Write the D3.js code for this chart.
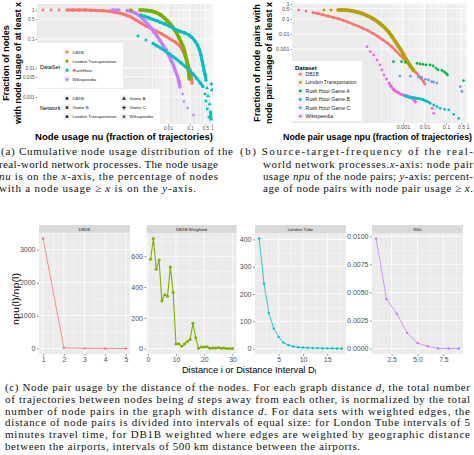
<!DOCTYPE html>
<html><head><meta charset="utf-8">
<script src="https://cdn.jsdelivr.net/npm/d3@7/dist/d3.min.js"></script>
<style>html,body{margin:0;padding:0;background:#fff;overflow:hidden}svg{display:block}</style>
</head><body>
<svg id="fig" width="474" height="455" xmlns="http://www.w3.org/2000/svg"></svg>
<script>
// ================= DATA =================
// (a) cumulative node usage: x = node usage nu, y = fraction of nodes with usage >= x
const nuDB1B = [2.08e-8,4.8e-8,1.11e-7,2.56e-7,4.8e-7,9.0e-7,1.69e-6,3.16e-6,5.9e-6,1.11e-5,2.08e-5,3.9e-5,7.3e-5,1.23e-4,2.08e-4,3.5e-4,5.9e-4,1.0e-3,1.69e-3,2.85e-3,4.8e-3,8.1e-3,1.37e-2,2.31e-2,3.5e-2,4.8e-2,5.9e-2,7.3e-2,8.55e-2,0.1,0.111,0.117,0.123];
const fracDB1B = [1,1,1,1,1,1,1,0.984,0.969,0.946,0.909,0.84,0.76,0.67,0.574,0.452,0.356,0.281,0.23,0.189,0.155,0.122,0.096,0.0757,0.0574,0.0386,0.0259,0.0174,0.0117,0.0085,0.0067,0.0045,0.003];
const nuLondon = [2.08e-4,5.3e-4,7.3e-4,1.0e-3,1.37e-3,1.87e-3,2.6e-3,3.5e-3,4.8e-3,6.6e-3,9.0e-3,1.23e-2,1.6e-2,2.1e-2,2.6e-2,3.2e-2,3.9e-2,4.8e-2,5.6e-2,6.2e-2,6.9e-2,7.55e-2,8.1e-2,8.5e-2,9.0e-2,9.3e-2];
const fracLondon = [1,1,0.98,0.97,0.946,0.91,0.84,0.76,0.67,0.55,0.43,0.34,0.26,0.196,0.15,0.108,0.079,0.055,0.039,0.028,0.020,0.0148,0.0108,0.0079,0.0057,0.0042];
const nuRushA = [5.9e-4,9.0e-4,1.37e-3,2.08e-3,3.16e-3,4.8e-3,7.3e-3,1.11e-2,1.69e-2,2.56e-2,3.9e-2,5.9e-2,9.0e-2,0.123,0.169,0.219,0.27,0.316,0.35,0.39,0.43,0.48,0.53,0.59,0.66,0.77,0.855,0.90];
const fracRushA = [0.67,0.60,0.53,0.47,0.42,0.37,0.33,0.28,0.24,0.204,0.18,0.161,0.137,0.113,0.085,0.062,0.042,0.028,0.0189,0.0127,0.0085,0.0062,0.00386,0.00204,0.00108,0.00057,0.00030,0.000174];
const nuRushB = [4.3e-4,1.0e-3,2.08e-3,3.16e-3,4.8e-3,7.3e-3,1.11e-2,1.69e-2,2.56e-2,3.9e-2,5.9e-2,9.0e-2,0.137,0.208,0.30,0.39,0.48,0.53,0.61,0.73];
const fracRushB = [0.127,0.092,0.070,0.058,0.048,0.039,0.0316,0.0249,0.0196,0.0151,0.0115,0.0085,0.0062,0.0043,0.0030,0.0023,0.00127,0.00073,0.00039,0.000204];
const nuRushC = [0.95,1.0];
const fracRushC = [0.0028,0.00174];
const nuWiki = [2.85e-5,5.9e-5,1.37e-4,1.87e-4,2.56e-4,3.5e-4,4.8e-4,6.6e-4,9.0e-4,1.23e-3,1.69e-3,2.31e-3,3.16e-3,4.3e-3,5.9e-3,8.1e-3,1.05e-2,1.37e-2,1.78e-2,2.19e-2,2.7e-2,3.16e-2,3.5e-2,4.6e-2,5.3e-2,7.7e-2,0.144];
const fracWiki = [1,1,0.96,0.92,0.85,0.76,0.65,0.53,0.42,0.316,0.24,0.174,0.127,0.089,0.062,0.042,0.028,0.0189,0.0122,0.0079,0.0051,0.0033,0.0022,0.00127,0.0007,0.00042,0.00024];
const aXTicks = [0.01,0.1,0.5,1];
const aXLabels = ["0.01","0.1","0.5","1"];
const aYTicks = [1,0.5,0.1,0.01,0.005,0.001];
const aYLabels = ["1","0.5","0.1","0.01","0.005","0.001"];
const aDataSets = ["DB1B","London Transportation","RushHour","Wikispeedia"];
const aNetworks = ["DB1B","Game A","Game B","Game C","London Transportation","Wikispeedia"];

// (b) source-target frequency: x = node pair usage npu, y = fraction of node pairs with usage >= x
const npuDB1B = [1.41e-8,3.08e-8,6.5e-8,1.11e-7,1.9e-7,3.25e-7,5.5e-7,9.5e-7,1.62e-6,2.77e-6,4.7e-6,8.1e-6,1.38e-5,2.36e-5,4.0e-5,6.9e-5,1.17e-4,2.0e-4,3.1e-4,4.7e-4,7.2e-4,1.05e-3,1.53e-3,2.1e-3,2.9e-3,4.0e-3,5.3e-3,6.9e-3,9.0e-3,1.05e-2];
const pfDB1B = [0.40,0.34,0.27,0.23,0.19,0.158,0.13,0.105,0.083,0.063,0.046,0.034,0.024,0.0166,0.0108,0.0068,0.004,0.0023,0.00136,7.4e-4,4.0e-4,2.3e-4,1.36e-4,7.9e-5,4.6e-5,2.7e-5,1.71e-5,1.08e-5,6.8e-6,4.6e-6];
const npuLondon = [2.12e-7,4.5e-7,9.5e-7,1.31e-6,1.8e-6,2.48e-6,3.4e-6,4.7e-6,6.5e-6,9.0e-6,1.24e-5,1.71e-5,2.36e-5,3.25e-5,4.5e-5,6.2e-5,8.5e-5,1.17e-4,1.62e-4,2.23e-4,3.08e-4,4.2e-4,5.8e-4,8.1e-4,1.05e-3,1.38e-3,1.8e-3,2.36e-3,3.08e-3];
const pfLondon = [0.40,0.40,0.40,0.40,0.40,0.386,0.37,0.34,0.307,0.271,0.233,0.194,0.158,0.126,0.095,0.070,0.050,0.034,0.0215,0.0126,0.0068,0.0034,0.0017,8.6e-4,4.3e-4,2.15e-4,1.17e-4,6.3e-5,3.7e-5];
const npuGameA = [3.6e-4,8.5e-4,1.31e-3,4.5e-3,6.2e-3,8.5e-3,1.17e-2,1.8e-2,2.5e-2,3.4e-2,4.2e-2,6.5e-2,8.1e-2,0.1,0.117,0.65];
const pfGameA = [1.42e-4,1.42e-4,1.30e-4,1.11e-4,1.0e-4,9.5e-5,8.6e-5,8.6e-5,7.4e-5,5.4e-5,4.0e-5,3.7e-5,3.07e-5,2.4e-5,1.85e-5,7.9e-6];
const npuGameB = [1.24e-3,1.53e-3,1.9e-3,2.36e-3,2.92e-3,3.6e-3,4.5e-3,5.5e-3,6.9e-3,8.5e-3,1.05e-2,1.31e-2,1.8e-2,2.68e-2,3.8e-2,5.4e-2,8.5e-2,0.134,0.228,0.39];
const pfGameB = [7.4e-7,6.6e-7,6.3e-7,6.0e-7,5.7e-7,5.4e-7,5.2e-7,4.9e-7,4.6e-7,4.2e-7,3.7e-7,3.2e-7,2.5e-7,1.85e-7,1.42e-7,1.11e-7,9.5e-8,8.6e-8,4.4e-8,2.4e-8];
const npuGameC = [7.2e-4,2.19e-3,5.3e-3,7.4e-3,1.09e-2,1.53e-2,2.16e-2,2.68e-2,3.8e-2,0.46,0.55];
const pfGameC = [1.58e-5,1.58e-5,1.36e-5,1.30e-5,9.5e-6,8.6e-6,6.6e-6,6.3e-6,5.4e-6,3.07e-6,1.47e-6];
const npuWiki = [2.12e-5,3.0e-5,4.3e-5,6.2e-5,8.5e-5,1.05e-4,1.31e-4,1.71e-4,2.23e-4,2.77e-4,3.6e-4,4.7e-4,6.2e-4,8.1e-4,1.11e-3,1.53e-3,2.12e-3,2.77e-3,3.4e-3,3.8e-3,1.86e-2,2.23e-2,2.68e-2];
const pfWiki = [1.42e-3,6.6e-4,4.0e-4,1.85e-4,8.6e-5,4.0e-5,1.85e-5,1.0e-5,5.4e-6,3.16e-6,2.0e-6,1.47e-6,1.17e-6,9.7e-7,8.3e-7,7.4e-7,6.3e-7,5.0e-7,3.7e-7,2.93e-7,2.4e-7,1.11e-7,5.2e-8];
const bXTicks = [0.001,0.01,0.1,0.5,1];
const bXLabels = ["0.001","0.01","0.1","0.5","1"];
const bYTicks = [1,0.5,0.1,0.01,0.001];
const bYLabels = ["1","0.5","0.1","0.01","0.001"];
const bDataSets = ["DB1B","London Transportation","Rush Hour Game A","Rush Hour Game B","Rush Hour Game C","Wikispeedia"];

// (c) node pair usage by distance
const distDB1B = [1,2,3,4,5];
const valDB1B = [3340,25,5,2,1];
const distDB1BW = [1,2,3,4,5,6,7,8,9,10,11,12,13,14,15,16,17,18,19,20,21,22,23,24,25,26,27,28,29,30];
const valDB1BW = [580,715,515,575,310,350,340,530,365,30,32,15,30,45,60,165,70,2,10,10,12,3,5,5,8,3,5,1,1,1];
const distTube = [1,2,3,4,5,6,7,8,9,10,11,12,13,14,15,16,17,18];
const valTube = [403,238,130,74,43,22,13,8,5,4,3,2,2,1.5,1,1,0.5,0.5];
const distWiki = [1,2,3,4,5,6,7,8,9];
const valWiki = [0.0098,0.0044,0.0031,0.0014,0.0005,0.0002,0.00002,0.00001,0.00001];
const facetNames = ["DB1B","DB1B Weighted","London Tube","Wiki"];
const cXTicks = [[1,2,3,4,5],[0,10,20,30],[5,10,15],[2.5,5.0,7.5]];
const cYTicks = [[0,1000,2000,3000],[0,200,400,600],[0,100,200,300,400],[0,0.0025,0.005,0.0075,0.01]];

// ================= DRAWING =================
const svg = d3.select("#fig");
const SANS = "'Liberation Sans', Arial, Helvetica, sans-serif";
const SERIF = "'Liberation Serif', 'Times New Roman', serif";
const BG = "#EBEBEB";
svg.append("rect").attr("width",474).attr("height",455).attr("fill","#fff");

function symbolPath(type, size){ return d3.symbol().type(type).size(size)(); }
const STROKE_SYMS = new Set([d3.symbolPlus, d3.symbolAsterisk, d3.symbolX, d3.symbolTimes].filter(Boolean));

function drawSeries(g, xs, ys, sx, sy, o){
  const pts = xs.map((v,i)=>[sx(v), sy(ys[i])]);
  if (o.gap > 0){
    const segs = [];
    for (let i=1;i<pts.length;i++){
      const d = Math.hypot(pts[i][0]-pts[i-1][0], pts[i][1]-pts[i-1][1]);
      if (d < o.gap) segs.push([pts[i-1], pts[i]]);
    }
    g.append("g").selectAll("line").data(segs).join("line")
      .attr("x1",d=>d[0][0]).attr("y1",d=>d[0][1]).attr("x2",d=>d[1][0]).attr("y2",d=>d[1][1])
      .attr("stroke",o.color).attr("stroke-width",o.lw).attr("stroke-linecap","round");
  }
  const shape = o.shape || d3.symbolCircle;
  const isStroke = STROKE_SYMS.has(shape);
  g.append("g").selectAll("path").data(pts).join("path")
    .attr("transform",d=>`translate(${d[0]},${d[1]})`)
    .attr("d", symbolPath(shape, o.size))
    .attr("fill", isStroke ? "none" : o.color)
    .attr("stroke", isStroke ? o.color : "none").attr("stroke-width", 0.8);
}

function clip(id, x0, y0, x1, y1){
  svg.append("clipPath").attr("id",id).append("rect").attr("x",x0).attr("y",y0).attr("width",x1-x0).attr("height",y1-y0);
}

function logGrid(g, sx, sy, x0,y0,x1,y1, xk0, xTicks, yTicks){
  const xs = [];
  for (let k=xk0;k<=0;k++) for (let m=1;m<=9;m++){ const v=m*Math.pow(10,k); if (v<=1.0001) xs.push(v);} 
  g.selectAll(null).data(xs).join("line").attr("x1",d=>sx(d)).attr("x2",d=>sx(d)).attr("y1",y0).attr("y2",y1)
    .attr("stroke","#fff").attr("stroke-width",0.45);
  g.selectAll(null).data(xTicks).join("line").attr("x1",d=>sx(d)).attr("x2",d=>sx(d)).attr("y1",y0).attr("y2",y1)
    .attr("stroke","#fff").attr("stroke-width",0.8);
  g.selectAll(null).data(yTicks).join("line").attr("y1",d=>sy(d)).attr("y2",d=>sy(d)).attr("x1",x0).attr("x2",x1)
    .attr("stroke","#fff").attr("stroke-width",0.8);
}

function styleAxis(sel, fs){
  sel.select(".domain").remove();
  sel.selectAll(".tick line").attr("stroke","#333").attr("stroke-width",0.5);
  sel.selectAll(".tick text").attr("fill","#4D4D4D").attr("font-size",fs).attr("font-family",SANS);
}

// ---------- Panel (a) ----------
const A = {x0:37, x1:213, y0:4, y1:124};
const ax = d3.scaleLog().domain([Math.pow(10,-7.955), Math.pow(10,0.045)]).range([A.x0, A.x1]);
const ay = d3.scaleLog().domain([Math.pow(10,-3.93), Math.pow(10,0.207)]).range([A.y1, A.y0]);
const gA = svg.append("g");
gA.append("rect").attr("x",A.x0).attr("y",A.y0).attr("width",A.x1-A.x0).attr("height",A.y1-A.y0).attr("fill",BG);
logGrid(gA.append("g"), ax, ay, A.x0,A.y0,A.x1,A.y1, -3, aXTicks, aYTicks);
clip("clipA", A.x0, A.y0, A.x1, A.y1);
const gAp = gA.append("g").attr("clip-path","url(#clipA)");
const colA = {DB1B:"#F8766D", London:"#7CAE00", Rush:"#00BFC4", Wiki:"#C77CFF"};
drawSeries(gAp, nuDB1B, fracDB1B, ax, ay, {color:colA.DB1B, size:7, gap:7, lw:3});
drawSeries(gAp, nuWiki, fracWiki, ax, ay, {color:colA.Wiki, size:7, gap:7, lw:3.2, shape:d3.symbolAsterisk||d3.symbolCross});
drawSeries(gAp, nuLondon, fracLondon, ax, ay, {color:colA.London, size:8, gap:7, lw:3.6, shape:d3.symbolSquare});
drawSeries(gAp, nuRushB, fracRushB, ax, ay, {color:colA.Rush, size:7, gap:7, lw:2.8, shape:d3.symbolSquare});
drawSeries(gAp, nuRushA, fracRushA, ax, ay, {color:colA.Rush, size:7, gap:7, lw:3, shape:d3.symbolTriangle});
drawSeries(gAp, nuRushC, fracRushC, ax, ay, {color:colA.Rush, size:9, gap:0, lw:0, shape:d3.symbolCross});

const axA = gA.append("g").attr("transform",`translate(${A.x0},0)`)
  .call(d3.axisLeft(ay).tickValues(aYTicks).tickFormat((d,i)=>aYLabels[i]).tickSize(1.5).tickPadding(1));
styleAxis(axA, 4.6);
const axAb = gA.append("g").attr("transform",`translate(0,${A.y1})`)
  .call(d3.axisBottom(ax).tickValues(aXTicks).tickFormat((d,i)=>aXLabels[i]).tickSize(1.5).tickPadding(1));
styleAxis(axAb, 4.6);

// legends (a)
const lgA = gA.append("g").attr("font-family",SANS);
lgA.append("rect").attr("x",37).attr("y",43).attr("width",86).attr("height",45).attr("fill","#fff");
lgA.append("text").attr("x",40).attr("y",68.5).attr("font-size",5.6).text("DataSet");
const dsCol = [colA.DB1B, colA.London, colA.Rush, colA.Wiki];
aDataSets.forEach((n,i)=>{
  const y = 52 + i*9.1;
  lgA.append("rect").attr("x",63.5).attr("y",y-3.5).attr("width",7).attr("height",7).attr("fill","#F2F2F2");
  lgA.append("path").attr("transform",`translate(67,${y})`).attr("d",symbolPath(d3.symbolCircle,8)).attr("fill",dsCol[i]);
  lgA.append("text").attr("x",72.5).attr("y",y+1.6).attr("font-size",4.4).attr("fill","#1A1A1A").text(n);
});
lgA.append("rect").attr("x",37).attr("y",89).attr("width",123).attr("height",35).attr("fill","#fff");
lgA.append("text").attr("x",40).attr("y",109.5).attr("font-size",5.6).text("Network");
const netShapes = [d3.symbolCircle, d3.symbolTriangle, d3.symbolSquare, d3.symbolCross, d3.symbolSquare, d3.symbolAsterisk||d3.symbolCross];
aNetworks.forEach((n,i)=>{
  const col = i%2, row = Math.floor(i/2);
  const x = col===0 ? 67 : 124, y = 98.5 + row*9.1;
  lgA.append("rect").attr("x",x-3.5).attr("y",y-3.5).attr("width",7).attr("height",7).attr("fill","#F2F2F2");
  const sh = netShapes[i];
  const st = STROKE_SYMS.has(sh);
  lgA.append("path").attr("transform",`translate(${x},${y})`).attr("d",symbolPath(sh,7))
    .attr("fill", st?"none":"#333").attr("stroke", st?"#333":"none").attr("stroke-width",0.8);
  lgA.append("text").attr("x",x+5.5).attr("y",y+1.6).attr("font-size",4.4).attr("fill","#1A1A1A").text(n);
});

// titles (a)
svg.append("text").attr("x",35).attr("y",139.5).attr("font-family",SANS).attr("font-weight","bold").attr("font-size",9.5)
  .attr("textLength",178).attr("lengthAdjust","spacingAndGlyphs").text("Node usage nu (fraction of trajectories)");
svg.append("text").attr("transform","translate(8.8,63) rotate(-90)").attr("text-anchor","middle").attr("font-family",SANS)
  .attr("font-weight","bold").attr("font-size",9).text("Fraction of nodes");
svg.append("text").attr("transform","translate(20.6,63) rotate(-90)").attr("text-anchor","middle").attr("font-family",SANS)
  .attr("font-weight","bold").attr("font-size",9).attr("textLength",122).attr("lengthAdjust","spacingAndGlyphs").text("with node usage of at least x");

// ---------- Panel (b) ----------
const B = {x0:292, x1:467, y0:3, y1:123};
const bx = d3.scaleLog().domain([Math.pow(10,-8.163), Math.pow(10,-0.023)]).range([B.x0, B.x1]);
const by = d3.scaleLog().domain([Math.pow(10,-7.933), Math.pow(10,0.067)]).range([B.y1, B.y0]);
const gB = svg.append("g");
gB.append("rect").attr("x",B.x0).attr("y",B.y0).attr("width",B.x1-B.x0).attr("height",B.y1-B.y0).attr("fill",BG);
logGrid(gB.append("g"), bx, by, B.x0,B.y0,B.x1,B.y1, -4, bXTicks, bYTicks);
clip("clipB", B.x0, B.y0, B.x1, B.y1);
const gBp = gB.append("g").attr("clip-path","url(#clipB)");
const colB = ["#F8766D","#B79F00","#00BA38","#00BFC4","#619CFF","#F564E3"];
drawSeries(gBp, npuDB1B, pfDB1B, bx, by, {color:colB[0], size:6, gap:6.5, lw:2.4});
drawSeries(gBp, npuLondon, pfLondon, bx, by, {color:colB[1], size:7, gap:6.5, lw:3.6});
drawSeries(gBp, npuGameA, pfGameA, bx, by, {color:colB[2], size:6, gap:0, lw:0});
drawSeries(gBp, npuGameC, pfGameC, bx, by, {color:colB[4], size:6, gap:0, lw:0});
drawSeries(gBp, npuWiki, pfWiki, bx, by, {color:colB[5], size:6, gap:4.5, lw:2.6});
drawSeries(gBp, npuGameB, pfGameB, bx, by, {color:colB[3], size:6, gap:3.5, lw:2.4});

const axB = gB.append("g").attr("transform",`translate(${B.x0},0)`)
  .call(d3.axisLeft(by).tickValues(bYTicks).tickFormat((d,i)=>bYLabels[i]).tickSize(1.5).tickPadding(1));
styleAxis(axB, 5.4);
const axBb = gB.append("g").attr("transform",`translate(0,${B.y1})`)
  .call(d3.axisBottom(bx).tickValues(bXTicks).tickFormat((d,i)=>bXLabels[i]).tickSize(1.5).tickPadding(1));
styleAxis(axBb, 5.4);

const lgB = gB.append("g").attr("font-family",SANS);
lgB.append("rect").attr("x",292).attr("y",61).attr("width",70).attr("height",60).attr("fill","#fff");
lgB.append("text").attr("x",295).attr("y",69.5).attr("font-size",6).attr("font-weight","bold").text("Dataset");
bDataSets.forEach((n,i)=>{
  const y = 74.2 + i*8.4;
  lgB.append("rect").attr("x",296.5).attr("y",y-3.8).attr("width",7.6).attr("height",7.6).attr("fill","#F2F2F2");
  lgB.append("path").attr("transform",`translate(300.3,${y})`).attr("d",symbolPath(d3.symbolCircle,7)).attr("fill",colB[i]);
  lgB.append("text").attr("x",305.5).attr("y",y+1.8).attr("font-size",5.1).attr("fill","#1A1A1A").text(n);
});

svg.append("text").attr("x",283).attr("y",139.5).attr("font-family",SANS).attr("font-weight","bold").attr("font-size",8.6)
  .attr("textLength",189).attr("lengthAdjust","spacingAndGlyphs").text("Node pair usage npu (fraction of trajectories)");
svg.append("text").attr("transform","translate(259.5,63) rotate(-90)").attr("text-anchor","middle").attr("font-family",SANS)
  .attr("font-weight","bold").attr("font-size",9).attr("textLength",118).attr("lengthAdjust","spacingAndGlyphs").text("Fraction of node pairs with");
svg.append("text").attr("transform","translate(272,63) rotate(-90)").attr("text-anchor","middle").attr("font-family",SANS)
  .attr("font-weight","bold").attr("font-size",9).attr("textLength",122).attr("lengthAdjust","spacingAndGlyphs").text("node pair usage of at least x");

// ---------- Panel (c) facets ----------
const facetData = [
  {d:distDB1B, v:valDB1B, col:"#F8766D", x0:39, x1:130},
  {d:distDB1BW, v:valDB1BW, col:"#7CAE00", x0:146.5, x1:236.5},
  {d:distTube, v:valTube, col:"#00BFC4", x0:255, x1:346},
  {d:distWiki, v:valWiki, col:"#C77CFF", x0:372, x1:463}
];
const CY0 = 233, CY1 = 354, STRIP0 = 225;
function expand(ext){ const p=(ext[1]-ext[0])*0.05; return [ext[0]-p, ext[1]+p]; }
function minorOf(ticks, dom){
  const step = ticks[1]-ticks[0]; const out=[];
  for (let t=ticks[0]-step; t<=ticks[ticks.length-1]+step+1e-12; t+=step){ const m=t+step/2; if (m>dom[0] && m<dom[1]) out.push(m); }
  return out;
}
facetData.forEach((f,i)=>{
  const g = svg.append("g");
  const sx = d3.scaleLinear().domain(expand(d3.extent(f.d))).range([f.x0, f.x1]);
  const sy = d3.scaleLinear().domain(expand(d3.extent(f.v))).range([CY1, CY0]);
  g.append("rect").attr("x",f.x0).attr("y",CY0).attr("width",f.x1-f.x0).attr("height",CY1-CY0).attr("fill",BG);
  g.append("rect").attr("x",f.x0).attr("y",STRIP0).attr("width",f.x1-f.x0).attr("height",CY0-STRIP0).attr("fill","#D9D9D9");
  g.append("text").attr("x",(f.x0+f.x1)/2).attr("y",230.6).attr("text-anchor","middle").attr("font-family",SANS)
    .attr("font-size",4.4).attr("fill","#1A1A1A").text(facetNames[i]);
  const xt = cXTicks[i], yt = cYTicks[i];
  const xm = minorOf(xt, sx.domain()), ym = minorOf(yt, sy.domain());
  g.selectAll(null).data(xm).join("line").attr("x1",d=>sx(d)).attr("x2",d=>sx(d)).attr("y1",CY0).attr("y2",CY1).attr("stroke","#fff").attr("stroke-width",0.4);
  g.selectAll(null).data(ym).join("line").attr("y1",d=>sy(d)).attr("y2",d=>sy(d)).attr("x1",f.x0).attr("x2",f.x1).attr("stroke","#fff").attr("stroke-width",0.4);
  g.selectAll(null).data(xt).join("line").attr("x1",d=>sx(d)).attr("x2",d=>sx(d)).attr("y1",CY0).attr("y2",CY1).attr("stroke","#fff").attr("stroke-width",0.8);
  g.selectAll(null).data(yt).join("line").attr("y1",d=>sy(d)).attr("y2",d=>sy(d)).attr("x1",f.x0).attr("x2",f.x1).attr("stroke","#fff").attr("stroke-width",0.8);
  const line = d3.line().x((d,j)=>sx(f.d[j])).y((d,j)=>sy(f.v[j]));
  g.append("path").attr("d",line(f.v)).attr("fill","none").attr("stroke",f.col).attr("stroke-width",i===1?1.1:0.8);
  g.selectAll(null).data(f.v).join("circle").attr("cx",(d,j)=>sx(f.d[j])).attr("cy",d=>sy(d)).attr("r",i===1?1.5:1.2).attr("fill",f.col);
  const fmtY = i===3 ? d3.format(".4f") : d3.format("d");
  const fmtX = i===3 ? d3.format(".1f") : d3.format("d");
  const yA = g.append("g").attr("transform",`translate(${f.x0},0)`).call(d3.axisLeft(sy).tickValues(yt).tickFormat(fmtY).tickSize(2).tickPadding(1.5));
  styleAxis(yA, 7);
  const xA = g.append("g").attr("transform",`translate(0,${CY1})`).call(d3.axisBottom(sx).tickValues(xt).tickFormat(fmtX).tickSize(2).tickPadding(1.5));
  styleAxis(xA, 6.8);
});
svg.append("text").attr("transform","translate(19,299) rotate(-90)").attr("text-anchor","middle").attr("font-family",SANS)
  .attr("font-size",9.5).attr("textLength",52).attr("lengthAdjust","spacingAndGlyphs").text("npu(l)/np(l)");
const xt = svg.append("text").attr("x",249).attr("y",372.5).attr("text-anchor","middle").attr("font-family",SANS).attr("font-size",9.3);
xt.append("tspan").text("Distance i or Distance Interval D");
xt.append("tspan").attr("font-size",6.5).attr("dy",1.8).text("i");

// ---------- Captions ----------
function caption(x, y, str, width){
  const t = svg.append("text").attr("x",x).attr("y",y).attr("font-family",SERIF).attr("font-size",11).attr("fill","#111");
  str.split("_").forEach((p,k)=>{ if(p.length) t.append("tspan").attr("font-style", k%2 ? "italic" : null).text(p); });
  if (width) t.attr("textLength",width).attr("lengthAdjust","spacing");
}
caption(1, 155.2, "(a) Cumulative node usage distribution of the", 232);
caption(-1, 167.5, "real-world network processes. The node usage", 219);
caption(-1, 179.8, "_nu_ is on the _x_-axis, the percentage of nodes", 219);
caption(-1, 192, "with a node usage \u2265 _x_ is on the _y_-axis.", 197);
caption(240, 155.2, "(b) Source-target-frequency of the real-", 233);
caption(263, 167.5, "world network processes._x_-axis: node pair", 210);
caption(263, 179.8, "usage _npu_ of the node pairs; _y_-axis: percent-", 210);
caption(263, 192, "age of node pairs with node pair usage \u2265 _x_.", 210);
caption(5, 391.2, "(c) Node pair usage by the distance of the nodes. For each graph distance _d_, the total number", 465);
caption(5, 402.8, "of trajectories between nodes being _d_ steps away from each other, is normalized by the total", 465);
caption(5, 414.5, "number of node pairs in the graph with distance _d_. For data sets with weighted edges, the", 465);
caption(5, 426.2, "distance of node pairs is divided into intervals of equal size: for London Tube intervals of 5", 465);
caption(5, 437.8, "minutes travel time, for DB1B weighted where edges are weighted by geographic distance", 465);
caption(5, 449.5, "between the airports, intervals of 500\u2009km distance between the airports.", 355);
</script>
</body></html>
